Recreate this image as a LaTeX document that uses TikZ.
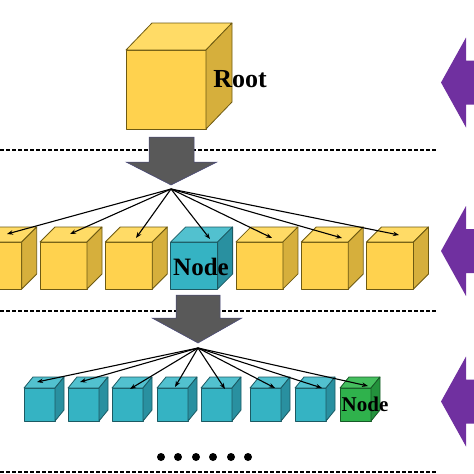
\documentclass[tikz,border=0pt]{standalone}
\usepackage{fontspec}
\setmainfont{Liberation Serif}
\usetikzlibrary{arrows.meta}
\definecolor{yfront}{HTML}{FFD24E}
\definecolor{ytop}{HTML}{FFDB66}
\definecolor{yside}{HTML}{D6AF3C}
\definecolor{yedge}{HTML}{6E5A12}
\definecolor{tfront}{HTML}{35B3C3}
\definecolor{ttop}{HTML}{52C1CF}
\definecolor{tside}{HTML}{2990A0}
\definecolor{tedge}{HTML}{1C5A63}
\definecolor{gfront}{HTML}{2FB24C}
\definecolor{gtop}{HTML}{45BF5E}
\definecolor{gside}{HTML}{23923C}
\definecolor{gedge}{HTML}{175A27}
\definecolor{darrow}{HTML}{595959}
\definecolor{purp}{HTML}{7030A0}
\newcommand\drawcube[7]{%
  \path[fill=#7front, draw=#7edge, line width=0.8pt, line join=round] (#1,#2) rectangle ++(#3,#4);
  \path[fill=#7top, draw=#7edge, line width=0.8pt, line join=round] (#1,#2) -- ++(#5,-#6) -- ++(#3,0) -- ++(-#5,#6) -- cycle;
  \path[fill=#7side, draw=#7edge, line width=0.8pt, line join=round] (#1+#3,#2) -- ++(#5,-#6) -- ++(0,#4) -- ++(-#5,#6) -- cycle;
}
\tikzset{
  sep/.style={line width=1.3pt, dash pattern=on 4pt off 2pt},
  fan/.style={line width=1.1pt, -{Stealth[length=6pt,width=4.5pt]}},
  bigarrow/.style={fill=darrow, draw=darrow!80!blue, line width=0.5pt},
  sidearrow/.style={fill=purp},
  lbl/.style={font=\bfseries, inner sep=0pt}
}
\begin{document}
\begin{tikzpicture}[x=1pt,y=-1pt]
\useasboundingbox (0,0) rectangle (474,474);
\clip (0,0) rectangle (474,474);
% separators
\draw[sep] (0,150) -- (437,150);
\draw[sep] (0,311) -- (437,311);
\draw[sep] (0,472) -- (437,472);
% root cube
\drawcube{126}{50}{80}{79}{26}{27}{y}
\node[lbl, font=\bfseries\fontsize{26}{26}\selectfont] (roottext) at (240,79) {Root};
% big arrow 1
\path[bigarrow] (149,137) -- (194,137) -- (194,162) -- (217,162) -- (171,185) -- (126,162) -- (149,162) -- cycle;
\coordinate (f1) at (171,189);
% row 1 cubes
\drawcube{-25.3}{242}{47}{47}{15}{15}{y}
\drawcube{40}{242}{47}{47}{15}{15}{y}
\drawcube{105.3}{242}{47}{47}{15}{15}{y}
\drawcube{170.6}{242}{47}{47}{15}{15}{t}
\drawcube{235.9}{242}{47}{47}{15}{15}{y}
\drawcube{301.2}{242}{47}{47}{15}{15}{y}
\drawcube{366.5}{242}{47}{47}{15}{15}{y}
\node[lbl, font=\bfseries\fontsize{25}{25}\selectfont] (nodetext1) at (201,267) {Node};
\coordinate (a1) at (7,234);
\coordinate (a2) at (70,234);
\coordinate (a3) at (136,238);
\coordinate (a4) at (210,239);
\coordinate (a5) at (272,238);
\coordinate (a6) at (342,238);
\coordinate (a7) at (399,235);
\foreach \i in {1,...,7} \draw[fan] (f1) -- (a\i);
% big arrow 2
\path[bigarrow] (176,295) -- (220,295) -- (220,318) -- (242,318) -- (198,343) -- (152,318) -- (176,318) -- cycle;
\coordinate (f2) at (198,348);
% row 2 cubes
\drawcube{24}{388}{31}{33}{9}{11}{t}
\drawcube{68}{388}{31}{33}{9}{11}{t}
\drawcube{112}{388}{31}{33}{9}{11}{t}
\drawcube{157}{388}{31}{33}{9}{11}{t}
\drawcube{201}{388}{31}{33}{9}{11}{t}
\drawcube{250}{388}{31}{33}{9}{11}{t}
\drawcube{295}{388}{31}{33}{9}{11}{t}
\drawcube{340}{388}{31}{33}{9}{11}{g}
\node[lbl, font=\bfseries\fontsize{21}{21}\selectfont] (nodetext2) at (365,404) {Node};
\coordinate (b1) at (37,382);
\coordinate (b2) at (80,382);
\coordinate (b3) at (130,389);
\coordinate (b4) at (175,387);
\coordinate (b5) at (225,389);
\coordinate (b6) at (275,388);
\coordinate (b7) at (322,388);
\coordinate (b8) at (368,386);
\foreach \i in {1,...,8} \draw[fan] (f2) -- (b\i);
% dots
\foreach \x in {161,178,196,213,231,248} \fill (\x,457) circle (4);
% purple arrows
\foreach \c in {82.5,251,401.5} {
  \path[sidearrow] (441,\c) -- (466,\c-45) -- (466,\c-22) -- (480,\c-22) -- (480,\c+22) -- (466,\c+22) -- (466,\c+45) -- cycle;
}
\end{tikzpicture}
\end{document}
